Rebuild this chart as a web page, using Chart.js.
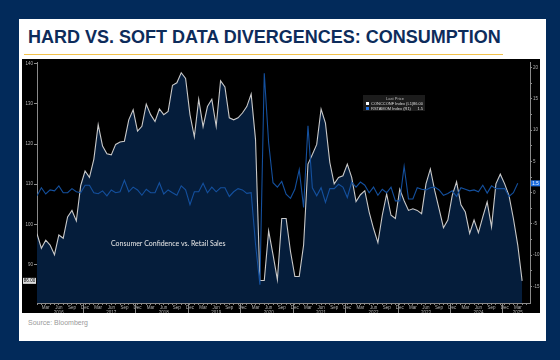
<!DOCTYPE html>
<html>
<head>
<meta charset="utf-8">
<title>Hard vs. Soft Data Divergences: Consumption</title>
<script src="https://cdn.jsdelivr.net/npm/chart.js@4.4.1/dist/chart.umd.min.js"></script>
<style>
  html, body { margin: 0; padding: 0; }
  body {
    width: 560px; height: 360px; position: relative; overflow: hidden;
    background: #022a5a;
    font-family: "Liberation Sans", Arial, sans-serif;
  }
  .card { position: absolute; left: 19px; top: 19px; width: 527px; height: 322px; background: #fff; }
  .title {
    position: absolute; left: 28px; top: 27px; white-space: nowrap;
    font-size: 18px; line-height: 20px; font-weight: bold; color: #0d2c5b;
  }
  .rule { position: absolute; left: 24px; top: 54px; width: 479px; height: 1px; background: #f3c24a; }
  .panel { position: absolute; left: 22px; top: 59px; width: 518px; height: 254px; background: #000; }
  .panel canvas { position: absolute; left: 0; top: 0; }
  .source { position: absolute; left: 28px; top: 319px; font-size: 7px; color: #9a9a9a; }
</style>
</head>
<body>
<div class="card"></div>
<div class="title">HARD VS. SOFT DATA DIVERGENCES: CONSUMPTION</div>
<div class="rule"></div>
<div class="panel"><canvas id="divergence-chart" width="518" height="254"></canvas></div>
<div class="source">Source: Bloomberg</div>

<script>
// monthly readings, first value is Jan 2016
var startYear = 2016;

// CONCCONF Index (Conference Board consumer confidence) - left axis
var confidence = [
    97.7, 94.1, 96.1, 94.9, 92.5, 97.4, 96.6, 101.9, 103.5, 100.9, 109.7, 113.3,
    111.7, 116.2, 124.8, 119.5, 117.6, 117.3, 119.9, 120.5, 120.7, 126.0, 128.5, 123.2,
    124.4, 129.9, 127.3, 125.6, 128.7, 127.3, 128.1, 134.6, 135.2, 137.7, 136.3, 127.3,
    121.8, 131.1, 124.3, 129.3, 131.1, 124.4, 135.7, 134.2, 126.5, 126.0, 126.5, 127.7,
    129.3, 132.4, 121.1, 86.1, 86.1, 98.4, 92.5, 86.3, 101.5, 101.5, 93.3, 87.1,
    87.1, 94.9, 115.0, 117.4, 119.9, 128.7, 125.2, 115.4, 110.1, 111.7, 112.1, 115.0,
    111.7, 105.7, 107.4, 108.4, 103.1, 99.0, 95.5, 102.3, 107.6, 102.3, 101.5, 108.8,
    105.9, 103.5, 103.9, 103.5, 102.7, 110.1, 113.8, 108.4, 103.9, 99.2, 101.1, 107.2,
    110.6, 104.9, 103.1, 97.8, 101.1, 98.0, 101.9, 105.6, 99.4, 110.1, 112.5, 110.1,
    107.2, 101.5, 94.9, 86.0
];

// RSTAMOM Index (retail sales, % m/m) - right axis
var retailSales = [
    -0.5, 0.8, -0.2, 0.45, 0.3, 1.1, 0.0, 0.0, 0.65, 0.15, 0.0, 1.2,
    1.2, 0.0, -0.15, 0.3, -0.5, 0.45, 0.0, 0.15, 2.0, 0.15, 0.9, 0.45,
    -0.4, 0.55, 0.0, 0.0, 1.6, -0.2, 0.45, 0.0, -0.4, 1.1, 0.45, -1.9,
    0.15, 0.15, 1.5, 0.0, 0.9, 0.15, 0.8, 0.8, -0.6, 0.15, 0.65, 0.45,
    -0.1, 0.0, -8.2, -14.7, 19.1, 8.0, 1.6, 0.9, 1.8, -0.24, -0.9, 0.55,
    3.7, -2.35, 10.7, 0.8, -0.5, 0.8, -1.55, 0.66, 0.66, 1.35, 0.9, -0.76,
    1.7, 0.9, 1.7, 1.2, 0.0, 0.9, -0.4, 0.55, 0.0, 0.9, -1.3, -1.3,
    4.2, -1.0, -1.0, 0.8, 0.55, 0.45, 0.8, 0.9, 0.45, -0.4, -0.13, 0.3,
    -0.6, 0.8, 0.55, 0.3, 0.45, 0.15, 1.2, -0.05, 1.1, 0.66, 0.66, 0.66,
    -0.6, 0.0, 1.5
];

var leftTicks = [90, 100, 110, 120, 130, 140];
var rightTicks = [-15, -10, -5, 0, 5, 10, 15, 20];
var quarterNames = { 2: 'Mar', 5: 'Jun', 8: 'Sep', 11: 'Dec' };
var seriesNames = ['CONCCONF Index (L1)', 'RSTAMOM Index (R1)'];
var noteText = 'Consumer Confidence vs. Retail Sales';

var AXIS_GREY = '#8a8a8a';
var LABEL_GREY = '#b4b4b4';
var X_MAX = 112.8;

var DivergenceChart = {
    init: function() {
        var canvas = document.getElementById('divergence-chart');
        if (!canvas || typeof Chart === 'undefined') {
            console.error('Chart.js or canvas missing.');
            return;
        }
        Chart.defaults.font.family = '"Liberation Sans", Arial, sans-serif';
        this.chart = new Chart(canvas, {
            type: 'line',
            data: { datasets: this.buildDatasets() },
            options: this.buildOptions(),
            plugins: [this.extrasPlugin]
        });
    },

    toPoints: function(values) {
        return values.map(function(v, i) { return { x: i, y: v }; });
    },

    buildDatasets: function() {
        // retail sales first so it is painted over the confidence area
        return [{
            label: seriesNames[1],
            data: this.toPoints(retailSales),
            yAxisID: 'yR',
            borderColor: '#14509e',
            borderWidth: 1.1,
            pointRadius: 0,
            tension: 0,
            fill: false
        }, {
            label: seriesNames[0],
            data: this.toPoints(confidence),
            yAxisID: 'yL',
            borderColor: '#c9c9c9',
            backgroundColor: '#051d3b',
            borderWidth: 1.1,
            pointRadius: 0,
            tension: 0,
            fill: 'start'
        }];
    },

    monthLabel: function(value) {
        var m = value % 12;
        var year = startYear + Math.floor(value / 12);
        var name = quarterNames[m];
        if (!name) return '';
        // year goes under June, or under March when June is off the axis
        if (m === 5 && value <= X_MAX) return [name, String(year)];
        if (m === 2 && value + 3 > X_MAX) return [name, String(year)];
        return name;
    },

    buildOptions: function() {
        var self = this;
        var tickFont = { size: 4.5 };
        return {
            responsive: false,
            animation: false,
            layout: { padding: { top: 1, left: 0, right: 0, bottom: 0 } },
            plugins: { legend: { display: false }, tooltip: { enabled: false } },
            scales: {
                x: {
                    type: 'linear',
                    min: 0,
                    max: X_MAX,
                    afterBuildTicks: function(scale) {
                        var ticks = [];
                        for (var i = 0; i <= Math.floor(X_MAX); i++) ticks.push({ value: i });
                        scale.ticks = ticks;
                    },
                    afterFit: function(scale) { scale.height = 10; },
                    ticks: {
                        autoSkip: false,
                        maxRotation: 0,
                        padding: 0,
                        font: tickFont,
                        color: LABEL_GREY,
                        callback: function(value) { return self.monthLabel(value); }
                    },
                    grid: { drawOnChartArea: false, tickLength: 2, color: AXIS_GREY },
                    border: { color: AXIS_GREY }
                },
                yL: {
                    type: 'linear',
                    position: 'left',
                    min: 80.5,
                    max: 140.2,
                    afterBuildTicks: function(scale) {
                        scale.ticks = leftTicks.map(function(v) { return { value: v }; });
                    },
                    afterFit: function(scale) { scale.width = 15; },
                    ticks: { font: tickFont, color: LABEL_GREY, padding: 1 },
                    grid: { drawOnChartArea: false, tickLength: 3, color: AXIS_GREY },
                    border: { color: AXIS_GREY }
                },
                yR: {
                    type: 'linear',
                    position: 'right',
                    min: -17.64,
                    max: 20.8,
                    afterBuildTicks: function(scale) {
                        var ticks = [];
                        rightTicks.forEach(function(v, i) {
                            ticks.push({ value: v });
                            if (i < rightTicks.length - 1) ticks.push({ value: (v + rightTicks[i + 1]) / 2 });
                        });
                        scale.ticks = ticks;
                    },
                    afterFit: function(scale) { scale.width = 10; },
                    ticks: {
                        font: tickFont,
                        color: LABEL_GREY,
                        padding: 1,
                        callback: function(value) { return value % 5 === 0 ? value : ''; }
                    },
                    grid: { drawOnChartArea: false, tickLength: 2, color: AXIS_GREY },
                    border: { color: AXIS_GREY }
                }
            }
        };
    },

    extrasPlugin: {
        id: 'extras',
        afterDraw: function(chart) {
            var ctx = chart.ctx;
            var area = chart.chartArea;
            var xs = chart.scales.x, yL = chart.scales.yL, yR = chart.scales.yR;
            ctx.save();

            // year separators below the axis
            ctx.strokeStyle = AXIS_GREY;
            ctx.lineWidth = 1;
            for (var m = 10.5; m < X_MAX; m += 12) {
                var sx = Math.round(xs.getPixelForValue(m)) + 0.5;
                ctx.beginPath();
                ctx.moveTo(sx, area.bottom);
                ctx.lineTo(sx, chart.height);
                ctx.stroke();
            }

            // last price tags on both axes
            var lastC = confidence[confidence.length - 1];
            var lastR = retailSales[retailSales.length - 1];
            ctx.font = '4.5px "Liberation Sans", Arial, sans-serif';
            ctx.textAlign = 'center';
            ctx.textBaseline = 'middle';
            var cy = yL.getPixelForValue(lastC);
            ctx.fillStyle = '#dcdcdc';
            ctx.fillRect(area.left - 14, cy - 3, 13, 6);
            ctx.fillStyle = '#000';
            ctx.fillText(lastC.toFixed(2), area.left - 7.5, cy);
            var ry = yR.getPixelForValue(lastR);
            ctx.fillStyle = '#1f6fe0';
            ctx.fillRect(area.right + 1, ry - 3, 9, 6);
            ctx.fillStyle = '#fff';
            ctx.fillText(String(lastR), area.right + 5.5, ry);

            // legend box
            var lx = 341, ly = 36;
            ctx.fillStyle = '#1c1c1c';
            ctx.fillRect(lx, ly, 62, 16);
            ctx.font = '4px "Liberation Sans", Arial, sans-serif';
            ctx.fillStyle = '#bdbdbd';
            ctx.fillText('Last Price', lx + 32, ly + 3.5);
            var rows = [
                { color: '#ffffff', name: seriesNames[0], value: lastC.toFixed(2) },
                { color: '#1f6fe0', name: seriesNames[1], value: String(lastR) }
            ];
            rows.forEach(function(row, i) {
                var rowY = ly + 8.5 + i * 5;
                ctx.fillStyle = row.color;
                ctx.fillRect(lx + 3, rowY - 1.5, 3, 3);
                ctx.fillStyle = '#dedede';
                ctx.textAlign = 'left';
                ctx.fillText(row.name, lx + 8, rowY);
                ctx.textAlign = 'right';
                ctx.fillText(row.value, lx + 60, rowY);
            });

            // caption inside the plot
            ctx.font = '7px Lato, "Open Sans", sans-serif';
            ctx.textAlign = 'left';
            ctx.fillStyle = '#e8e8e8';
            ctx.fillText(noteText, area.left + 74, area.top + 181);

            ctx.restore();
        }
    }
};

document.addEventListener('DOMContentLoaded', function() {
    DivergenceChart.init();
});
</script>
</body>
</html>
